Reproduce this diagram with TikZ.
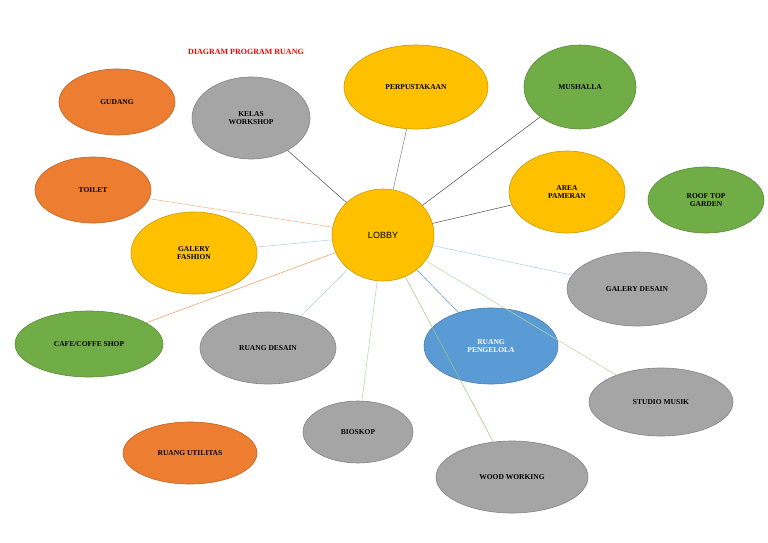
\documentclass[tikz,border=0pt]{standalone}
\usepackage{fontspec}
\setmainfont{Liberation Serif}
\newfontfamily\lobbyfont{Liberation Sans}
\usetikzlibrary{shapes.geometric}
\definecolor{cor}{HTML}{ED7D31}
\definecolor{cgr}{HTML}{A5A5A5}
\definecolor{cye}{HTML}{FFC000}
\definecolor{cgn}{HTML}{70AD47}
\definecolor{cbl}{HTML}{5B9BD5}
\tikzset{
 el/.style={ellipse,draw=#1!80!black,fill=#1,line width=0.6pt,inner sep=0pt,align=center,font=\bfseries\fontsize{7.5}{8.5}\selectfont},
 lk/.style={line width=0.5pt}
}
\begin{document}
\begin{tikzpicture}[x=1pt,y=-1pt]
\useasboundingbox[fill=white] (0,0) rectangle (768,543);
\node[text=red,font=\bfseries\fontsize{8}{9}\selectfont] (title) at (246,52) {DIAGRAM PROGRAM RUANG};
\node[el=cor,minimum width=116,minimum height=66] (gud) at (117,102) {GUDANG};
\node[el=cgr,minimum width=118,minimum height=82] (kel) at (251,118) {KELAS\\WORKSHOP};
\node[el=cye,minimum width=144,minimum height=84] (per) at (416,87) {PERPUSTAKAAN};
\node[el=cgn,minimum width=112,minimum height=84] (mus) at (580,87) {MUSHALLA};
\node[el=cor,minimum width=116,minimum height=66] (toi) at (93,190) {TOILET};
\node[el=cye,minimum width=116,minimum height=82] (pam) at (567,192) {AREA\\PAMERAN};
\node[el=cgn,minimum width=116,minimum height=66] (roof) at (706,200) {ROOF TOP\\GARDEN};
\node[el=cye,minimum width=126,minimum height=82] (fas) at (194,253) {GALERY\\FASHION};
\node[el=cgr,minimum width=140,minimum height=74] (gde) at (637,289) {GALERY DESAIN};
\node[el=cgn,minimum width=148,minimum height=66] (caf) at (89,344) {CAFE/COFFE SHOP};
\node[el=cgr,minimum width=136,minimum height=72] (rde) at (268,348) {RUANG DESAIN};
\node[el=cbl,minimum width=134,minimum height=76,text=white] (pen) at (491,346) {RUANG\\PENGELOLA};
\node[el=cgr,minimum width=144,minimum height=68] (stu) at (661,402) {STUDIO MUSIK};
\node[el=cgr,minimum width=110,minimum height=62] (bio) at (358,432) {BIOSKOP};
\node[el=cor,minimum width=134,minimum height=62] (uti) at (190,453) {RUANG UTILITAS};
\node[el=cgr,minimum width=152,minimum height=72] (woo) at (512,477) {WOOD WORKING};
\node[ellipse,draw=cye!80!black,fill=cye,line width=0.6pt,minimum width=102,minimum height=92,font=\lobbyfont\fontsize{9}{10}\selectfont] (lob) at (383,235) {LOBBY};
\begin{scope}[on background layer/.style={}]
\end{scope}
\draw[lk,black!70] (lob) -- (kel);
\draw[lk,black!50] (lob) -- (per);
\draw[lk,black!70] (lob) -- (mus);
\draw[lk,black!70] (lob) -- (pam);
\draw[lk,cor!60] (lob) -- (toi);
\draw[lk,cbl!50] (lob) -- (fas);
\draw[lk,cor!80] (lob) -- (caf);
\draw[lk,cbl!50] (lob) -- (rde);
\draw[lk,cgn!50] (lob) -- (bio);
\draw[lk,cgn!70] (lob) -- (woo);
\draw[lk,cbl] (lob) -- (pen);
\draw[lk,cbl!50] (lob) -- (gde);
\draw[lk,cgn!50] (lob) -- (stu);
\end{tikzpicture}
\end{document}
